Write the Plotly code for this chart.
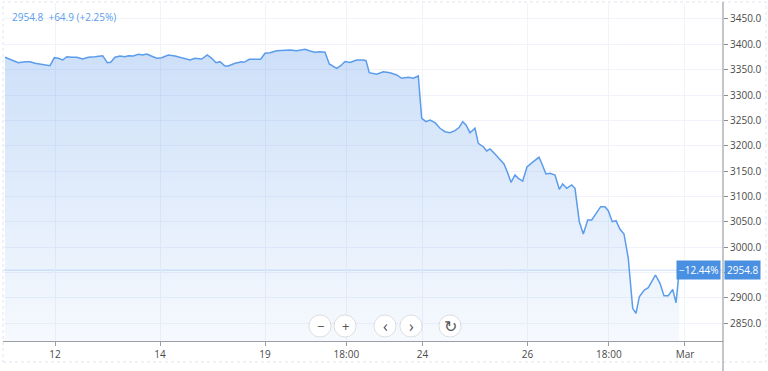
import plotly.graph_objects as go

# Session position (trading days since Feb 11 open) and index level
t = [0.048, 0.175, 0.301, 0.429, 0.524, 0.619, 0.777, 0.905, 0.987, 1.063, 1.147, 1.223, 1.318, 1.413,
     1.528, 1.634, 1.762, 1.909, 1.996, 2.061, 2.143, 2.238, 2.333, 2.396, 2.491, 2.587, 2.670, 2.747,
     2.823, 2.937, 3.032, 3.158, 3.286, 3.381, 3.571, 3.667, 3.794, 3.901, 3.985, 4.067, 4.143, 4.238,
     4.301, 4.429, 4.556, 4.600, 4.701, 4.810, 4.918, 5.000, 5.095, 5.223, 5.381, 5.476, 5.604, 5.762,
     5.857, 5.952, 6.048, 6.143, 6.225, 6.366, 6.442, 6.524, 6.619, 6.747, 6.872, 6.924, 6.987, 7.128,
     7.253, 7.381, 7.509, 7.604, 7.730, 7.825, 7.920, 7.985, 8.067, 8.143, 8.238, 8.333, 8.429, 8.524,
     8.619, 8.701, 8.766, 8.829, 8.905, 8.956, 9.000, 9.063, 9.158, 9.223, 9.286, 9.381, 9.476, 9.552,
     9.615, 9.686, 9.762, 9.825, 9.909, 9.990, 10.110, 10.219, 10.270, 10.352, 10.429, 10.524, 10.606,
     10.670, 10.747, 10.842, 10.905, 10.987, 11.063, 11.147, 11.223, 11.305, 11.394, 11.476, 11.539,
     11.615, 11.686, 11.762, 11.838, 11.920, 12.004, 12.067, 12.130, 12.225, 12.301, 12.366, 12.438,
     12.524, 12.600, 12.682, 12.766, 12.829, 12.891]
price = [3374.5, 3369.2, 3363.8, 3365.8, 3365.8, 3362.6, 3359.3, 3357.9, 3373.7, 3372.5, 3369.2, 3375.7,
         3374.5, 3374.5, 3371.1, 3374.5, 3375.7, 3377.6, 3363.8, 3364.6, 3374.5, 3377.0, 3375.7, 3377.6,
         3377.0, 3380.4, 3379.0, 3381.0, 3377.6, 3372.5, 3373.7, 3379.0, 3377.0, 3374.5, 3369.2, 3372.5,
         3371.1, 3379.0, 3372.5, 3363.8, 3365.8, 3357.3, 3357.3, 3362.6, 3365.8, 3364.6, 3370.5, 3370.5,
         3370.5, 3382.4, 3383.5, 3387.5, 3388.9, 3388.9, 3387.5, 3390.3, 3386.9, 3384.3, 3385.5, 3384.3,
         3361.3, 3352.8, 3357.9, 3366.2, 3364.2, 3369.2, 3369.2, 3367.8, 3344.1, 3341.0, 3346.1, 3344.1,
         3339.6, 3333.1, 3335.0, 3333.1, 3337.6, 3254.2, 3247.5, 3250.8, 3245.5, 3234.5, 3227.8, 3225.8,
         3229.8, 3236.5, 3247.5, 3241.0, 3225.8, 3229.8, 3234.5, 3204.9, 3198.2, 3189.7, 3193.7, 3183.8,
         3173.4, 3164.1, 3148.9, 3128.0, 3142.4, 3135.9, 3130.5, 3158.2, 3168.6, 3177.3, 3165.5, 3144.4,
         3145.8, 3142.4, 3114.2, 3124.7, 3116.2, 3122.7, 3116.2, 3050.3, 3026.1, 3053.7, 3053.7, 3065.5,
         3079.9, 3079.9, 3072.0, 3050.3, 3052.3, 3035.3, 3026.1, 2978.1, 2879.6, 2869.7, 2902.4, 2915.6,
         2920.2, 2932.0, 2945.2, 2928.9, 2904.4, 2904.4, 2917.0, 2890.6, 2954.8]

tick_pos = [1, 3, 5, 6.55, 8, 10, 11.55, 13]
tick_text = ["12", "14", "19", "18:00", "24", "26", "18:00", "Mar"]
y_ticks = [2850, 2900, 2950, 3000, 3050, 3100, 3150, 3200, 3250, 3300, 3350, 3400, 3450]

last_price = 2954.8
header_text = "2954.8  +64.9 (+2.25%)"
pct_text = "−12.44%"

LINE = "#5b9cec"
BADGE = "#4a90e2"
FONT = "Open Sans"

fig = go.Figure()
fig.add_trace(go.Scatter(
    x=t, y=price, mode="lines",
    line=dict(color=LINE, width=1.5),
    fill="tozeroy",
    fillgradient=dict(type="vertical",
                      colorscale=[[0, "rgba(76,142,232,0.05)"], [1, "rgba(76,142,232,0.28)"]],
                      start=2815, stop=3390),
    hoverinfo="skip", showlegend=False,
))

# last price line
fig.add_shape(type="line", xref="paper", x0=0, x1=1, yref="y", y0=last_price, y1=last_price,
              line=dict(color="rgba(76,142,232,0.30)", width=1), layer="below")

# right separator extending to bottom
fig.add_shape(type="line", xref="paper", x0=1, x1=1, yref="paper", y0=-0.09, y1=1.003,
              line=dict(color="#8a8d94", width=1))

# dotted panel border
fig.add_shape(type="rect", xref="paper", yref="paper", x0=0, x1=1.0597, y0=-0.0621, y1=1.003,
              line=dict(color="#dfe4ec", width=1, dash="dot"), layer="below")

# badges
fig.add_annotation(xref="paper", x=1, xanchor="right", xshift=-2, yref="y", y=last_price,
                   yanchor="middle", text=pct_text, showarrow=False, bgcolor=BADGE, borderpad=2,
                   font=dict(color="white", size=10, family=FONT))
fig.add_annotation(xref="paper", x=1, xanchor="left", xshift=1, yref="y", y=last_price,
                   yanchor="middle", text=str(last_price), showarrow=False, bgcolor=BADGE, borderpad=2,
                   font=dict(color="white", size=10, family=FONT))

# header
fig.add_annotation(xref="paper", x=0.0097, xanchor="left", yref="paper", y=0.9586, yanchor="middle",
                   text=header_text, showarrow=False,
                   font=dict(color=LINE, size=10, family=FONT))

# navigation buttons
btn_x = [320, 345, 385, 411, 450]
btn_sym = ["−", "+", "‹", "›", "↻"]
for px, s in zip(btn_x, btn_sym):
    cx = (px - 3) / 720
    cy = (341 - 326) / 338
    rx = 11 / 720
    ry = 11 / 338
    fig.add_shape(type="circle", xref="paper", yref="paper", x0=cx - rx, x1=cx + rx, y0=cy - ry, y1=cy + ry,
                  fillcolor="white", line=dict(color="rgba(0,0,0,0.12)", width=1))
    fig.add_annotation(xref="paper", yref="paper", x=cx, y=cy, xanchor="center", yanchor="middle",
                       text=s, showarrow=False,
                       font=dict(color="#555", size=13 if s in "−+" else 16, family=FONT))

fig.update_layout(
    width=768, height=371,
    margin=dict(l=3, r=45, t=3, b=30),
    paper_bgcolor="white", plot_bgcolor="white",
    font=dict(family=FONT, size=10, color="#4a4a4a"),
    xaxis=dict(range=[0.0095, 13.724], tickmode="array", tickvals=tick_pos, ticktext=tick_text,
               showgrid=True, gridcolor="#f0f3fa", gridwidth=1, zeroline=False,
               showline=True, linecolor="#9a9da4", linewidth=1,
               ticks="outside", ticklen=4, tickcolor="#9a9da4",
               tickfont=dict(size=10, color="#4a4a4a", family=FONT)),
    yaxis=dict(range=[2815.1, 3481.5], side="right", tickmode="array", tickvals=y_ticks,
               ticktext=["" if v == 2950 else f"{v:.1f}" for v in y_ticks],
               showgrid=True, gridcolor="#f0f3fa", gridwidth=1, zeroline=False,
               showline=False, ticks="outside", ticklen=4, tickcolor="#8a8d94",
               tickfont=dict(size=10, color="#4a4a4a", family=FONT)),
)

fig.write_html("out.html")
